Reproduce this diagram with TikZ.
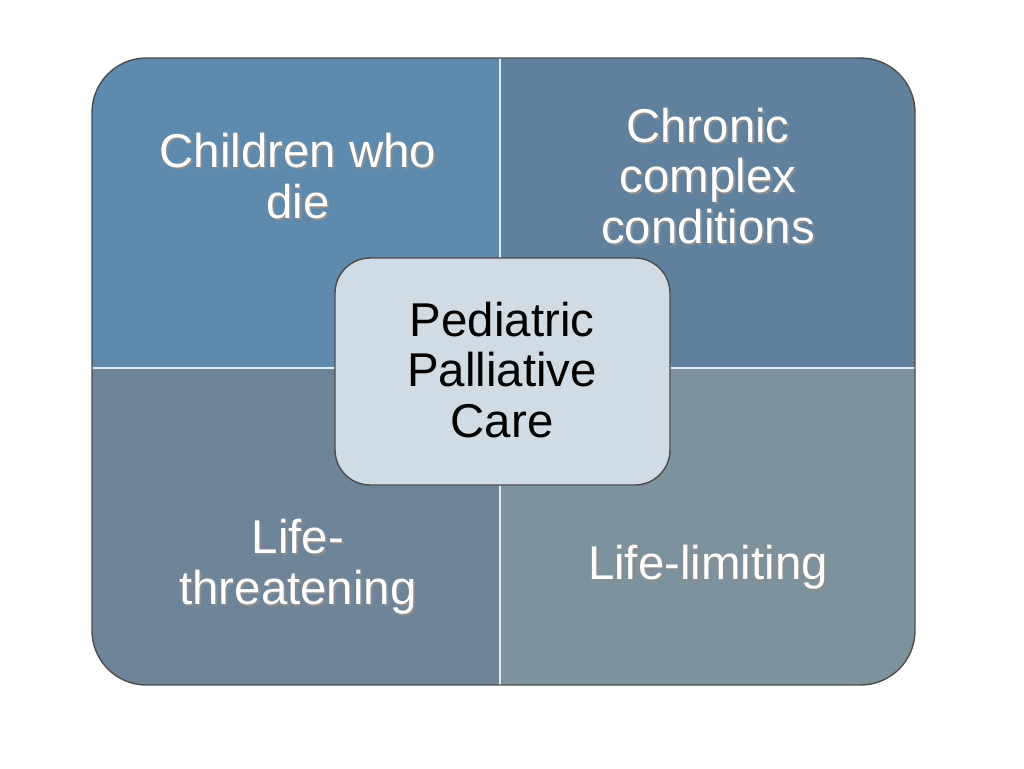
\documentclass[tikz,border=0pt]{standalone}
\usepackage{fontspec}
\setmainfont{Liberation Sans}
\begin{document}
\begin{tikzpicture}[x=0.02cm,y=-0.02cm,
  qtext/.style={text=white,font=\fontsize{27}{29}\selectfont,align=center},
  shtext/.style={text=black!45,font=\fontsize{27}{29}\selectfont,align=center}]
\definecolor{cTL}{HTML}{5E8AAE}
\definecolor{cTR}{HTML}{5F819D}
\definecolor{cBL}{HTML}{6D8499}
\definecolor{cBR}{HTML}{7E929E}
\definecolor{cC}{HTML}{D0DBE4}
\useasboundingbox (0,0) rectangle (1024,768);
\begin{scope}
\clip[rounded corners=45pt*0.7] (92,58) rectangle (915,685);
\fill[cTL] (92,58) rectangle (500,368);
\fill[cTR] (500,58) rectangle (915,368);
\fill[cBL] (92,368) rectangle (500,685);
\fill[cBR] (500,368) rectangle (915,685);
\draw[white!80!cTL,line width=1.2pt] (500,58) -- (500,685) (92,368) -- (915,368);
\end{scope}
\draw[black!70,line width=0.8pt,rounded corners=31pt] (92,58) rectangle (915,685);
\foreach \p/\t in {{298,176}/{Children who\\die},{708,176}/{Chronic\\complex\\conditions},{298,567}/{Life-\\threatening},{708,567}/{Life-limiting}}{
  \node[shtext] at ([shift={(2,2)}]\p) {\t};
}
\node[qtext] (tl) at (298,176) {Children who\\die};
\node[qtext] (tr) at (708,176) {Chronic\\complex\\conditions};
\node[qtext] (bl) at (298,567) {Life-\\threatening};
\node[qtext] (br) at (708,567) {Life-limiting};
\draw[black!70,fill=cC,line width=0.8pt,rounded corners=20pt] (335,258) rectangle (670,485);
\node[font=\fontsize{27}{29}\selectfont,align=center] (c) at (502,370) {Pediatric\\Palliative\\Care};
\end{tikzpicture}
\end{document}
